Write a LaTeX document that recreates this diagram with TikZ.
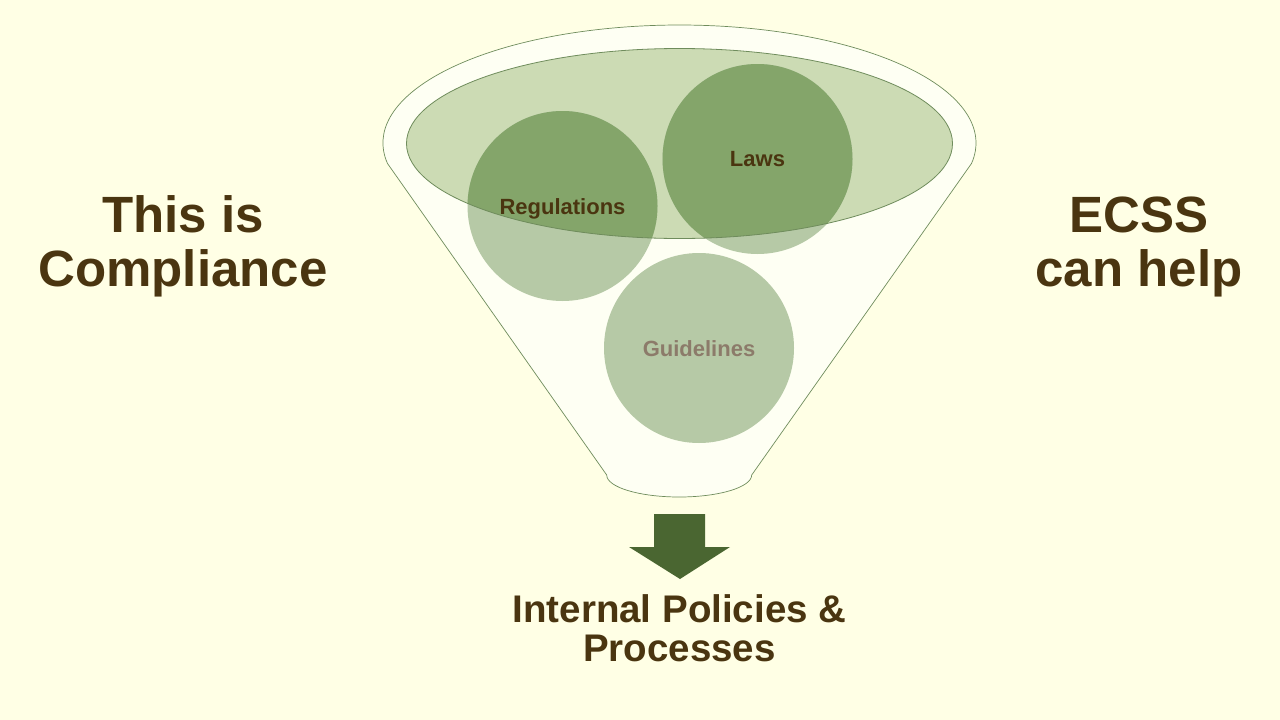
\documentclass[tikz,border=0pt]{standalone}
\usepackage{fontspec}
\setmainfont{Liberation Sans}
\definecolor{bg}{HTML}{FFFFE5}
\definecolor{funbg}{HTML}{FEFFF3}
\definecolor{ellfill}{HTML}{CCDBB4}
\definecolor{cdark}{HTML}{84A56A}
\definecolor{clight}{HTML}{B6C9A6}
\definecolor{edgecol}{HTML}{6F8C5C}
\definecolor{txt}{HTML}{4A3510}
\definecolor{guid}{HTML}{8C7B6A}
\definecolor{arrcol}{HTML}{4A6631}
\tikzset{
  bigtext/.style={font=\fontsize{51}{54}\selectfont\bfseries, text=txt, inner sep=0pt},
  midtext/.style={font=\fontsize{38.5}{40}\selectfont\bfseries, text=txt, inner sep=0pt},
  lbl/.style={font=\fontsize{22}{24}\selectfont\bfseries, text=txt, inner sep=0pt},
  ball/.style={circle, minimum size=190pt, inner sep=0pt, fill=clight},
}
\begin{document}
\begin{tikzpicture}[x=1pt,y=-1pt]
\fill[bg] (0,0) rectangle (1280,720);
\useasboundingbox (0,0) rectangle (1280,720);
% funnel body
\filldraw[fill=funbg, draw=edgecol, line width=0.7pt]
  (387.5,163.5) arc[start angle=170, end angle=370, x radius=296.5, y radius=118]
  -- (751.7,475) arc[start angle=0, end angle=180, x radius=72.5, y radius=22]
  -- cycle;
% inner ellipse
\fill[ellfill] (679.5,143.5) ellipse[x radius=273, y radius=95];
% balls
\node[ball] (reg) at (562.5,206) {};
\node[ball] (law) at (757.5,159) {};
\node[ball] (gui) at (699,348) {};
\begin{scope}
  \clip (679.5,143.5) ellipse[x radius=273, y radius=95];
  \fill[cdark] (reg.center) circle[radius=95];
  \fill[cdark] (law.center) circle[radius=95];
\end{scope}
\draw[edgecol, line width=0.8pt] (679.5,143.5) ellipse[x radius=273, y radius=95];
% labels
\node[lbl, anchor=base] (regt) at ([yshift=-8pt]reg.center) {Regulations};
\node[lbl, anchor=base] (lawt) at ([yshift=-7pt]law.center) {Laws};
\node[lbl, anchor=base, text=guid] (guit) at ([yshift=-8pt]gui.center) {Guidelines};
% arrow
\fill[arrcol] (654,514) -- (705,514) -- (705,547) -- (730,547) -- (680,579)
  -- (629,547) -- (654,547) -- cycle;
% texts
\node[bigtext, anchor=base] (l1) at (183,232) {This is};
\node[bigtext, anchor=base] (l2) at (183,286) {Compliance};
\node[bigtext, anchor=base] (r1) at (1139,232) {ECSS};
\node[bigtext, anchor=base] (r2) at (1139,286) {can help};
\node[midtext, anchor=base] (b1) at (679.5,622) {Internal Policies \&};
\node[midtext, anchor=base] (b2) at (679.5,661) {Processes};
\end{tikzpicture}
\end{document}
